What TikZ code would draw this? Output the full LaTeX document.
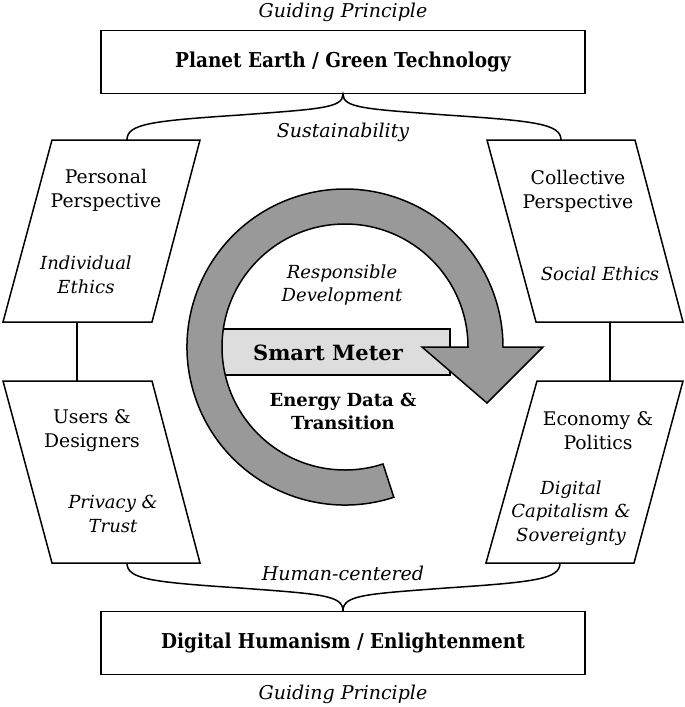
\documentclass[tikz,border=0pt]{standalone}
\usepackage{fontspec}
\setmainfont{DejaVu Serif}
\newfontfamily\narrowfont[FakeStretch=0.9]{DejaVu Serif}
\usetikzlibrary{positioning}
\definecolor{RingGray}{RGB}{153,153,153}
\definecolor{MeterGray}{RGB}{221,221,221}

\tikzset{
	panel/.style={draw, line width=1.5pt, fill=white},
	principlebox/.style={draw, line width=1.5pt, minimum width=484pt, minimum height=63pt,
		font=\narrowfont\bfseries\fontsize{20.5}{24}\selectfont},
	bodytext/.style={align=center, inner sep=0pt, font=\fontsize{18.8}{24}\selectfont},
	slanted/.style={bodytext, font=\itshape\fontsize{18}{23.5}\selectfont},
	guide/.style={inner sep=0pt, font=\itshape\fontsize{19}{23}\selectfont},
	link/.style={line width=1.5pt}
}

\begin{document}
\begin{tikzpicture}[x=1pt, y=-1pt]
	\useasboundingbox (0,0) rectangle (685,707);
	% guiding principles
	\node[guide] (guidetop) at (343,12) {Guiding Principle};
	\node[principlebox] (earth) at (343,62) {Planet Earth / Green Technology};
	\node[principlebox] (humanism) at (343,643) {Digital Humanism / Enlightenment};
	\node[guide] (guidebot) at (343,694) {Guiding Principle};
	% perspectives
	\draw[panel] (52,140) -- (200,140) -- (152,322) -- (3,322) -- cycle;
	\draw[panel] (3,381) -- (152,381) -- (200,563) -- (52,563) -- cycle;
	\draw[panel] (487,140) -- (635,140) -- (683,322) -- (536,322) -- cycle;
	\draw[panel] (537,381) -- (683,381) -- (634,563) -- (486,563) -- cycle;
	\coordinate (pertop) at (127,140);
	\coordinate (perbot) at (77,322);
	\coordinate (usetop) at (77,381);
	\coordinate (usebot) at (127,563);
	\coordinate (coltop) at (561,140);
	\coordinate (colbot) at (610,322);
	\coordinate (ecotop) at (610,381);
	\coordinate (ecobot) at (560,563);
	\node[bodytext] (personal) at (106,190) {Personal\\Perspective};
	\node[slanted] (indiv) at (86,275) {Individual\\Ethics};
	\node[bodytext] (users) at (92,431) {Users \&\\Designers};
	\node[slanted] (privacy) at (113,514) {Privacy \&\\Trust};
	\node[bodytext] (collective) at (578,191) {Collective\\Perspective};
	\node[slanted] (social) at (600,274) {Social Ethics};
	\node[bodytext] (economy) at (598,431) {Economy \&\\Politics};
	\node[slanted] (capital) at (571,513) {Digital\\Capitalism \&\\Sovereignty};
	\draw[link] (perbot) -- (usetop);
	\draw[link] (colbot) -- (ecotop);
	% braces
	\draw[link] (pertop) .. controls (127,124) and (150,121) .. (240,115)
		.. controls (320,109) and (343,108) .. (earth.south)
		.. controls (343,108) and (366,109) .. (446,115)
		.. controls (536,121) and (561,124) .. (coltop);
	\draw[link] (usebot) .. controls (127,579) and (150,582) .. (240,588)
		.. controls (320,594) and (343,595) .. (humanism.north)
		.. controls (343,595) and (366,594) .. (446,588)
		.. controls (536,582) and (560,579) .. (ecobot);
	\node[guide] (sustain) at (343,132) {Sustainability};
	\node[guide] (human) at (343,573) {Human-centered};
	% smart meter and cycle
	\fill[MeterGray, draw=black, line width=1.5pt] (220,329) rectangle (450,375);
	\coordinate (hub) at (345,347);
	\filldraw[fill=RingGray, line width=1.5pt, line join=miter]
		(hub) ++(72:158) arc[start angle=72, end angle=360, radius=158]
		-- (543,347) -- (487,403) -- (422,347) -- (468,347)
		arc[start angle=360, end angle=72, radius=123] -- cycle;
	\node[inner sep=0pt, font=\bfseries\fontsize{21}{24}\selectfont] (meter) at (328,353) {Smart Meter};
	\node[slanted] (respons) at (342,285) {Responsible\\Development};
	\node[bodytext, font=\bfseries\fontsize{18}{23}\selectfont] (energy) at (343,411) {Energy Data \&\\Transition};
\end{tikzpicture}
\end{document}
